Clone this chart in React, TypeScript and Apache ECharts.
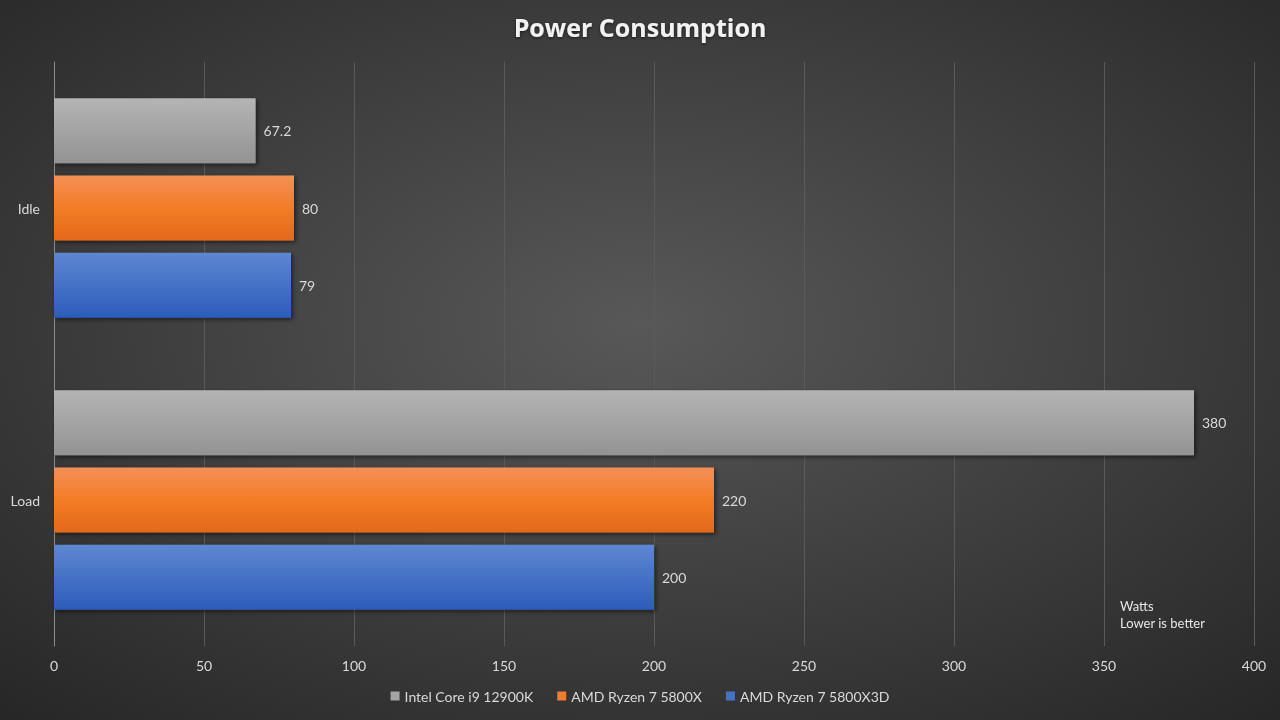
import React, { useEffect, useRef } from "react";
import * as echarts from "echarts";

const categories = ["Idle", "Load"];
const seriesNames = ["Intel Core i9 12900K", "AMD Ryzen 7 5800X", "AMD Ryzen 7 5800X3D"];
const intelValues = [67.2, 380];
const ryzen5800xValues = [80, 220];
const ryzen5800x3dValues = [79, 200];
const xTicks = { min: 0, max: 400, interval: 50 };

const grad = (stops: [number, string][]) =>
  new echarts.graphic.LinearGradient(0, 0, 0, 1, stops.map(([offset, color]) => ({ offset, color })));

export default function App() {
  const ref = useRef<HTMLDivElement>(null);
  useEffect(() => {
    const chart = echarts.init(ref.current!, null, { renderer: "svg" });
    const font = "Lato, 'Open Sans', sans-serif";
    const colors = [
      grad([[0, "#b4b4b4"], [1, "#939393"]]),
      grad([[0, "#f39057"], [0.5, "#f47c26"], [1, "#e2691a"]]),
      grad([[0, "#5e87d2"], [1, "#2b5cba"]]),
    ];
    const legendColors = ["#a5a5a5", "#ed7d31", "#4472c4"];
    const data = [intelValues, ryzen5800xValues, ryzen5800x3dValues];
    chart.setOption({
      animation: false,
      backgroundColor: new echarts.graphic.RadialGradient(0.5, 0.45, 0.75, [
        { offset: 0, color: "#585858" },
        { offset: 1, color: "#262626" },
      ]),
      title: {
        text: "Power Consumption",
        left: "center",
        top: 9,
        textStyle: {
          color: "#f2f2f2",
          fontSize: 25,
          fontWeight: "bold",
          fontFamily: "'Open Sans', sans-serif",
          textShadowColor: "rgba(0,0,0,0.6)",
          textShadowBlur: 3,
          textShadowOffsetY: 1,
        },
      },
      grid: { left: 54, right: 26, top: 62, bottom: 74, containLabel: false },
      legend: {
        bottom: 12,
        left: "center",
        itemWidth: 9,
        itemHeight: 9,
        itemGap: 24,
        icon: "rect",
        textStyle: { color: "#d9d9d9", fontSize: 14, fontFamily: font },
        data: seriesNames.map((n, i) => ({ name: n, itemStyle: { color: legendColors[i] } })),
      },
      xAxis: {
        type: "value",
        min: xTicks.min,
        max: xTicks.max,
        interval: xTicks.interval,
        axisLine: { show: false },
        axisTick: { show: false },
        splitLine: { lineStyle: { color: "#5a5a5a", width: 1 } },
        axisLabel: { color: "#d9d9d9", fontSize: 14, fontFamily: font, margin: 12 },
      },
      yAxis: {
        type: "category",
        data: categories,
        inverse: true,
        axisLine: { show: true, lineStyle: { color: "#8c8c8c", width: 1 } },
        axisTick: { show: false },
        axisLabel: { color: "#d9d9d9", fontSize: 14, fontFamily: font, margin: 14 },
      },
      series: seriesNames.map((name, i) => ({
        name,
        type: "bar",
        data: data[i],
        barWidth: 65,
        barGap: "19%",
        itemStyle: {
          color: colors[i],
          shadowColor: "rgba(0,0,0,0.5)",
          shadowBlur: 4,
          shadowOffsetX: 2,
          shadowOffsetY: 2,
        },
        label: {
          show: true,
          position: "right",
          distance: 8,
          color: "#d9d9d9",
          fontSize: 14,
          fontFamily: font,
        },
      })),
      graphic: [
        {
          type: "text",
          left: 1120,
          top: 597,
          style: {
            text: "Watts\nLower is better",
            fill: "#e6e6e6",
            fontSize: 13,
            lineHeight: 17,
            fontFamily: font,
          },
        },
      ],
    });
    return () => chart.dispose();
  }, []);
  return <div ref={ref} style={{ width: 1280, height: 720, position: "fixed", left: 0, top: 0 }} />;
}
